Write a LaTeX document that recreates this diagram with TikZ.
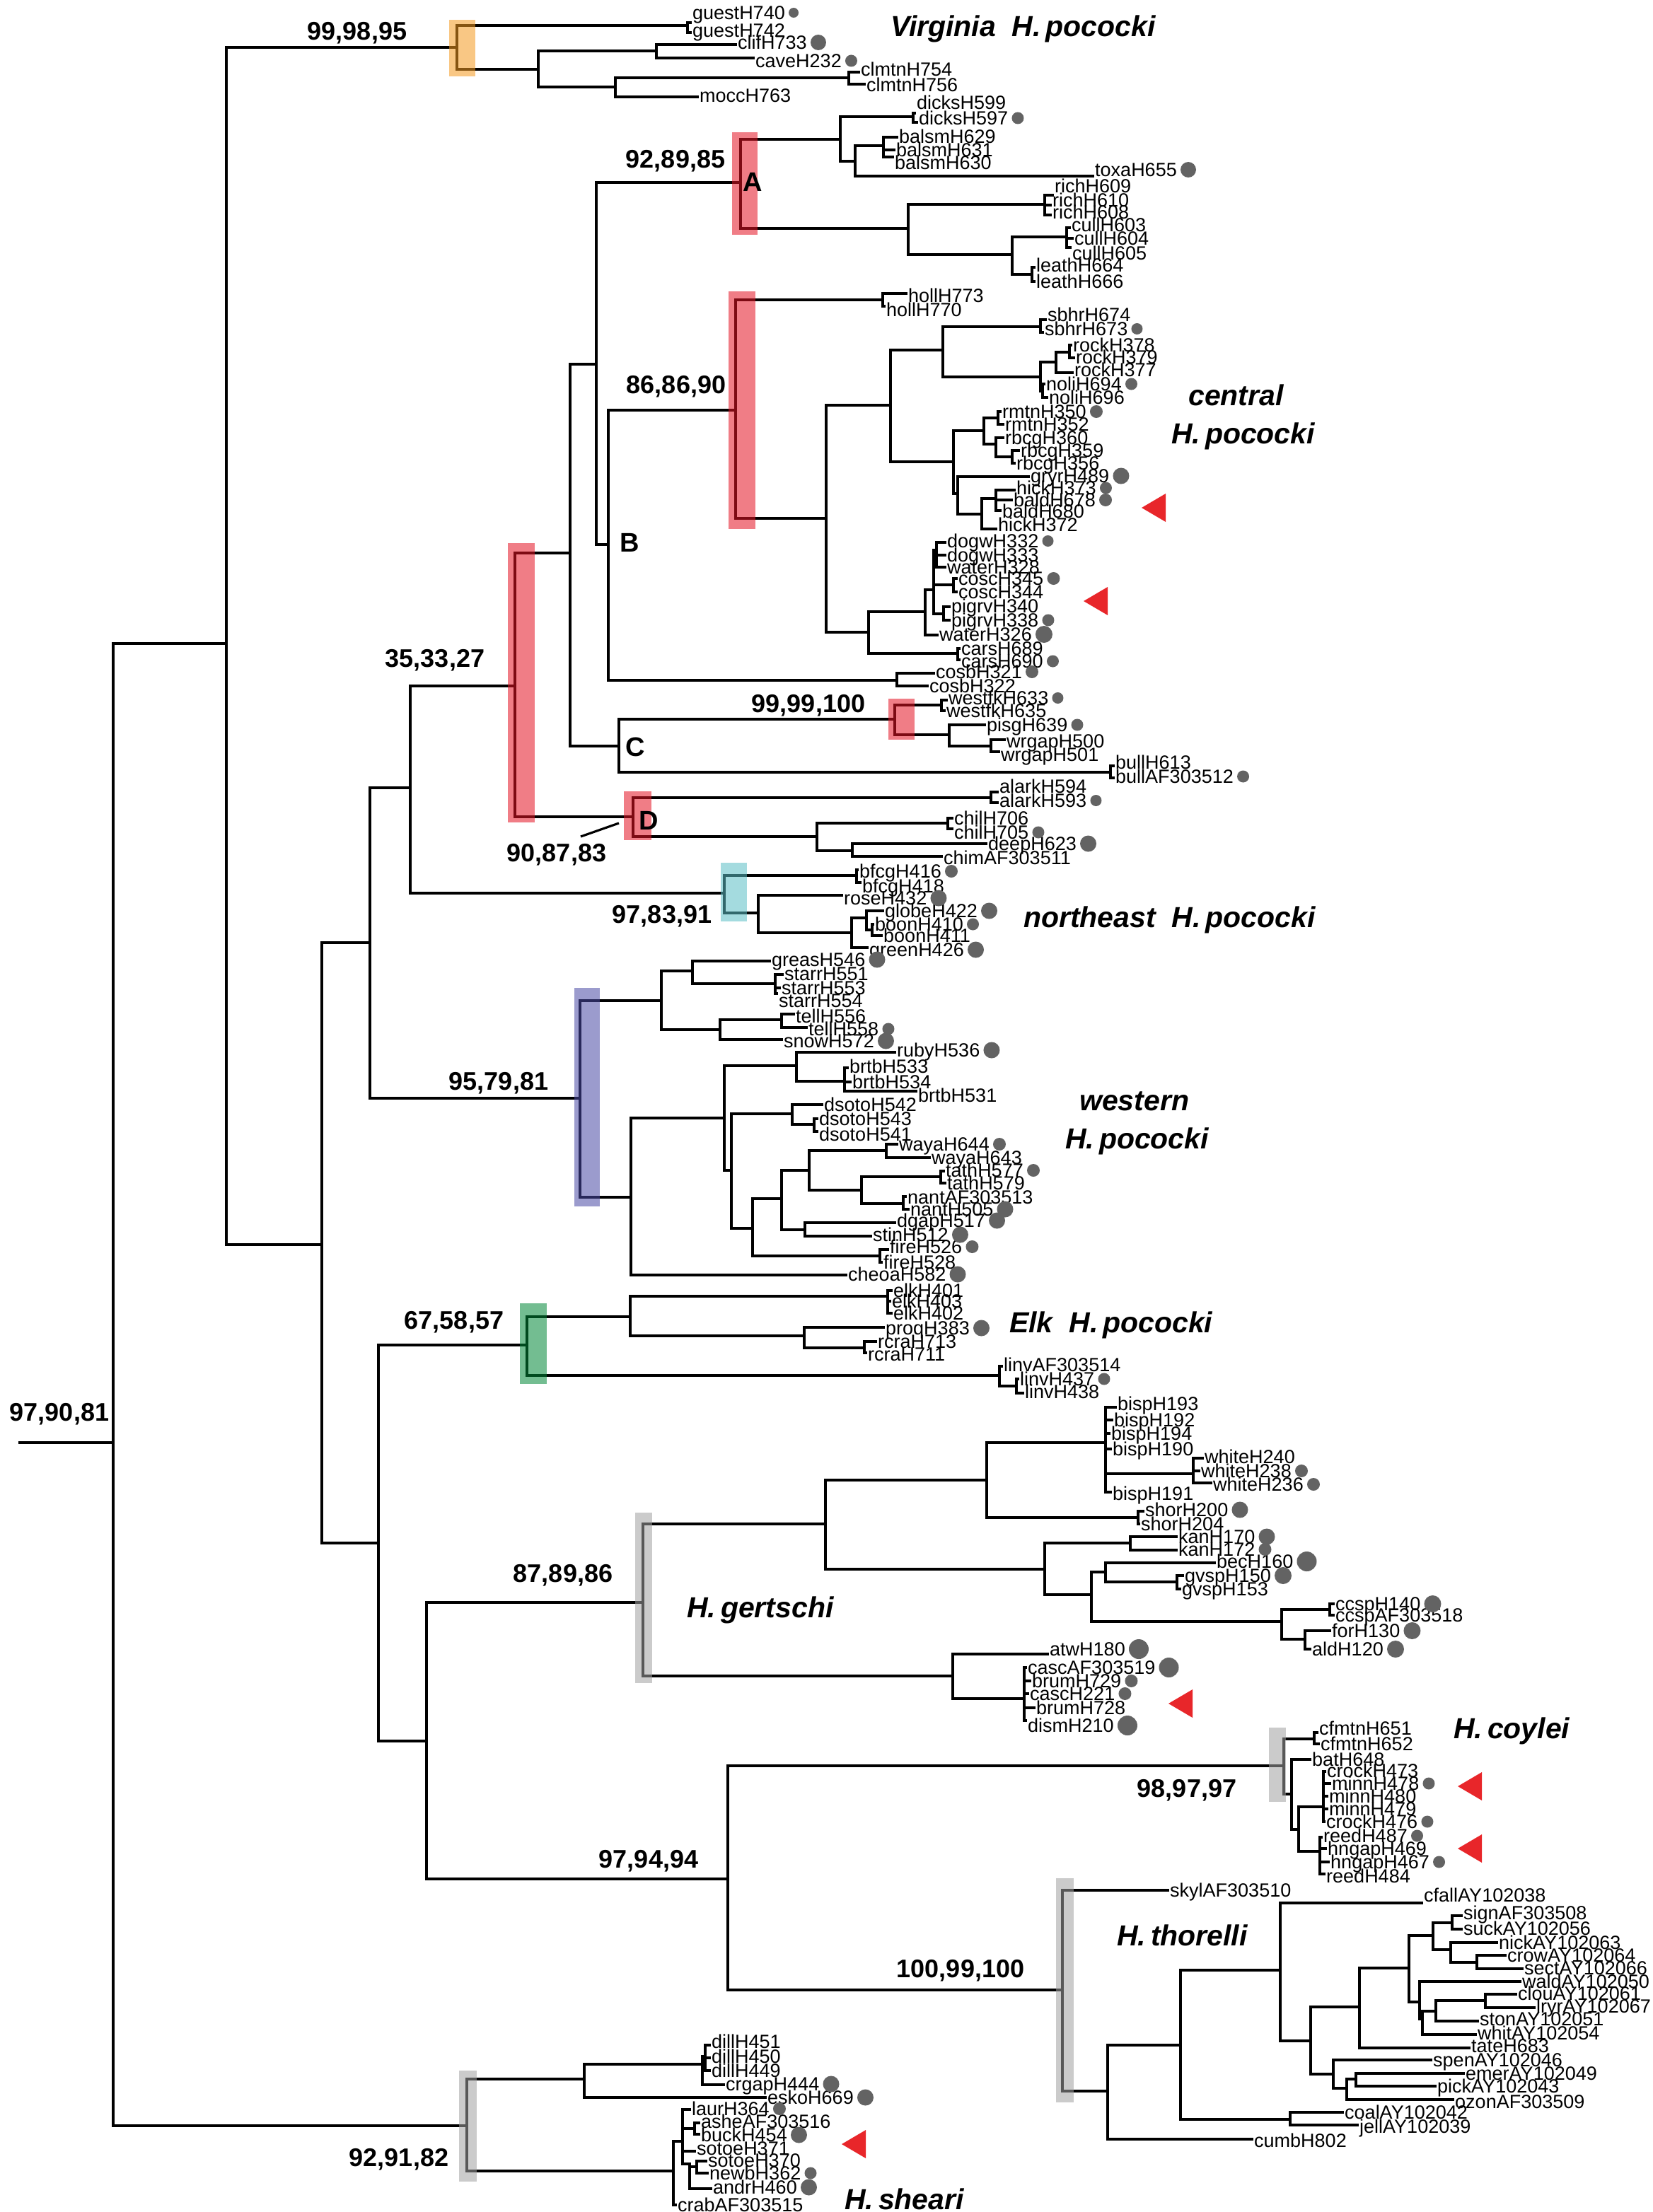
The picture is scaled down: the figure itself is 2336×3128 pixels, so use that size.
\documentclass[tikz,border=0pt]{standalone}
\usepackage{fontspec}
\setmainfont{Liberation Sans}
\definecolor{dotc}{RGB}{99,99,99}
\definecolor{trired}{RGB}{232,38,42}
\definecolor{bred}{RGB}{229,20,36}
\definecolor{borange}{RGB}{245,153,31}
\definecolor{bcyan}{RGB}{91,191,198}
\definecolor{bpurple}{RGB}{73,73,165}
\definecolor{bgreen}{RGB}{0,136,56}
\definecolor{bgray}{RGB}{162,162,162}
\newcommand\tbr[2]{\foreach \ch in {#2}{\draw[br] (#1) |- (\ch);}}
\newcommand\tlf[3]{\coordinate (#1) at (#2,#3);\node[lab] (#1-l) at (#2,#3) {#1};}
\newcommand\tlfy[4]{\coordinate (#1) at (#2,#3);\node[lab] (#1-l) at (#2,#4) {#1};}
\newcommand\tdot[2]{\fill[dotc] ([xshift=#2pt+5pt]#1-l.east) circle[radius=#2pt];}
\newcommand\ttri[2]{\fill[trired] (#1,#2) -- (#1+34,#2-20) -- (#1+34,#2+20) -- cycle;}
\begin{document}
\begin{tikzpicture}[x=1pt,y=-1pt,
 br/.style={line width=3.2pt,line cap=rect},
 cbox/.style={fill opacity=0.55},
 lab/.style={anchor=west,inner sep=0pt,xshift=3pt,text height=19.3pt,text depth=0pt,font=\fontsize{27}{27}\selectfont},
 num/.style={inner sep=0pt,text height=26pt,text depth=0pt,font=\fontsize{36}{36}\selectfont\bfseries},
 cladename/.style={anchor=west,inner sep=0pt,text height=29pt,text depth=0pt,font=\fontsize{41}{41}\selectfont\bfseries\itshape},
 cltr/.style={inner sep=0pt,text height=27pt,text depth=0pt,font=\fontsize{38}{38}\selectfont\bfseries}]
\useasboundingbox (0,0) rectangle (2336,3128);
\fill[white] (0,0) rectangle (2336,3128);
% ---------- backbone
\coordinate (rootL) at (28,2040);
\coordinate (root) at (160,2040);
\coordinate (n320) at (320,910);
\coordinate (n455) at (455,1760);
\coordinate (n523) at (523,1333);
\coordinate (n580) at (580,1114);
\coordinate (R) at (728,970);
\coordinate (P) at (806,782);
\coordinate (Q) at (843,515);
\coordinate (B) at (860,770);
\coordinate (N86) at (1040,580);
\coordinate (C) at (875,1055);
\coordinate (D) at (895,1155);
\coordinate (NE) at (1024,1263);
\coordinate (W) at (820,1553);
\coordinate (n535) at (535,2182);
\coordinate (E) at (745,1902);
\coordinate (n603) at (603,2462);
\coordinate (Gt) at (909,2266);
\coordinate (n1029) at (1029,2657);
\coordinate (Cy) at (1815,2497);
\coordinate (Th) at (1502,2814);
\coordinate (Sh) at (660,3006);
\coordinate (V) at (646,67);
\coordinate (A) at (1047,258);
% ---------- Virginia
\coordinate (G) at (972,36);
\coordinate (V2) at (761,98);
\coordinate (CC) at (928,72);
\coordinate (CM) at (870,123);
\coordinate (clm) at (1200,110);
\tlfy{guestH740}{976}{32}{18}
\tlfy{guestH742}{976}{46}{43}
\tlfy{clifH733}{1040}{63}{60}
\tlfy{caveH232}{1065}{82}{86}
\tlfy{clmtnH754}{1214}{102}{98}
\tlfy{clmtnH756}{1222}{119}{120}
\tlfy{moccH763}{986}{137}{135}
% ---------- A
\coordinate (A1) at (1188,197);
\coordinate (dk) at (1291,165);
\coordinate (A2) at (1209,228);
\coordinate (bs) at (1249,206);
\coordinate (A3) at (1284,323);
\coordinate (rc) at (1477,289);
\coordinate (A4) at (1431,360);
\coordinate (cl) at (1508,335);
\coordinate (le) at (1459,388);
\tlfy{dicksH599}{1293}{160}{145}
\tlfy{dicksH597}{1296}{173}{167}
\tlfy{balsmH629}{1268}{194}{193}
\tlfy{balsmH631}{1264}{212}{212}
\tlfy{balsmH630}{1262}{222}{230}
\tlfy{toxaH655}{1545}{249}{240}
\tlfy{richH609}{1488}{276}{263}
\tlfy{richH610}{1485}{290}{283}
\tlfy{richH608}{1485}{304}{300}
\tlfy{cullH603}{1512}{322}{318}
\tlf{cullH604}{1516}{337}
\tlfy{cullH605}{1513}{350}{358}
\tlfy{leathH664}{1462}{378}{375}
\tlf{leathH666}{1462}{398}
% ---------- B
\coordinate (ho) at (1248,424);
\coordinate (N1) at (1168,733);
\coordinate (N2) at (1259,573);
\coordinate (N3) at (1333,495);
\coordinate (sb) at (1471,462);
\coordinate (N4) at (1471,533);
\coordinate (rk) at (1493,512);
\coordinate (rk2) at (1512,498);
\coordinate (no) at (1474,553);
\coordinate (N5) at (1348,653);
\coordinate (N6) at (1391,609);
\coordinate (rm) at (1411,591);
\coordinate (rb) at (1408,628);
\coordinate (rb2) at (1431,646);
\coordinate (N7) at (1354,698);
\coordinate (N8) at (1388,727);
\coordinate (N9) at (1408,705);
\coordinate (N10) at (1228,894);
\coordinate (N11) at (1308,865);
\coordinate (N11b) at (1320,834);
\coordinate (N13) at (1324,778);
\coordinate (cs) at (1348,827);
\coordinate (pg) at (1334,868);
\coordinate (cr) at (1354,924);
\coordinate (cosb) at (1268,962);
\tlfy{hollH773}{1281}{415}{418}
\tlfy{hollH770}{1250}{433}{438}
\tlfy{sbhrH674}{1478}{452}{445}
\tlfy{sbhrH673}{1474}{470}{465}
\tlf{rockH378}{1514}{488}
\tlfy{rockH379}{1518}{506}{505}
\tlfy{rockH377}{1516}{527}{523}
\tlf{noliH694}{1476}{543}
\tlf{noliH696}{1480}{562}
\tlf{rmtnH350}{1414}{582}
\tlf{rmtnH352}{1418}{600}
\tlf{rbcgH360}{1418}{619}
\tlf{rbcgH359}{1440}{637}
\tlf{rbcgH356}{1434}{655}
\tlfy{gryrH489}{1454}{674}{673}
\tlfy{hickH373}{1434}{693}{690}
\tlf{baldH678}{1430}{707}
\tlfy{baldH680}{1414}{722}{723}
\tlfy{hickH372}{1408}{748}{742}
\tlfy{dogwH332}{1336}{767}{765}
\tlf{dogwH333}{1336}{785}
\tlf{waterH328}{1336}{802}
\tlf{coscH345}{1352}{818}
\tlf{coscH344}{1352}{837}
\tlfy{pigrvH340}{1342}{858}{857}
\tlf{pigrvH338}{1342}{877}
\tlfy{waterH326}{1325}{898}{897}
\tlf{carsH689}{1356}{917}
\tlfy{carsH690}{1356}{933}{935}
\tlfy{cosbH321}{1320}{952}{950}
\tlf{cosbH322}{1311}{970}
% ---------- C
\coordinate (c99) at (1265,1017);
\coordinate (wf) at (1331,997);
\coordinate (C2) at (1342,1039);
\coordinate (wg) at (1401,1055);
\coordinate (bu) at (1570,1092);
\tlfy{westfkH633}{1338}{990}{987}
\tlf{westfkH635}{1335}{1005}
\tlf{pisgH639}{1392}{1025}
\tlfy{wrgapH500}{1420}{1046}{1048}
\tlfy{wrgapH501}{1412}{1063}{1067}
\tlfy{bullH613}{1574}{1083}{1078}
\tlfy{bullAF303512}{1574}{1100}{1098}
% ---------- D
\coordinate (al) at (1401,1128);
\coordinate (D2) at (1155,1183);
\coordinate (ch) at (1340,1164);
\coordinate (D3) at (1205,1203);
\tlfy{alarkH594}{1410}{1120}{1112}
\tlfy{alarkH593}{1410}{1135}{1132}
\tlf{chilH706}{1346}{1157}
\tlfy{chilH705}{1346}{1172}{1177}
\tlf{deepH623}{1394}{1193}
\tlfy{chimAF303511}{1331}{1211}{1213}
% ---------- NE
\coordinate (bf) at (1211,1238);
\coordinate (NE2) at (1072,1291);
\coordinate (NE3) at (1204,1319);
\coordinate (NE4) at (1225,1298);
\coordinate (bn) at (1233,1315);
\tlfy{bfcgH416}{1212}{1230}{1232}
\tlfy{bfcgH418}{1216}{1248}{1253}
\tlfy{roseH432}{1190}{1266}{1270}
\tlf{globeH422}{1248}{1288}
\tlf{boonH410}{1234}{1307}
\tlf{boonH411}{1246}{1323}
\tlfy{greenH426}{1226}{1340}{1343}
% ---------- western
\coordinate (W1) at (935,1415);
\coordinate (W2) at (979,1373);
\coordinate (st) at (1096,1391);
\coordinate (W3) at (1018,1456);
\coordinate (tl) at (1105,1442);
\coordinate (W4) at (892,1693);
\coordinate (W5) at (1024,1581);
\coordinate (W6) at (1126,1507);
\coordinate (bt) at (1194,1529);
\coordinate (W7) at (1034,1655);
\coordinate (ds) at (1120,1575);
\coordinate (ds2) at (1151,1590);
\coordinate (W8) at (1064,1737);
\coordinate (W9) at (1105,1695);
\coordinate (W10) at (1144,1655);
\coordinate (wy) at (1253,1627);
\coordinate (W11) at (1218,1683);
\coordinate (th) at (1330,1664);
\coordinate (nt) at (1277,1702);
\coordinate (W12) at (1138,1739);
\coordinate (fi) at (1244,1776);
\tlfy{greasH546}{1088}{1359}{1357}
\tlfy{starrH551}{1106}{1378}{1377}
\tlf{starrH553}{1102}{1397}
\tlfy{starrH554}{1098}{1405}{1415}
\tlfy{tellH556}{1122}{1434}{1437}
\tlfy{tellH558}{1140}{1453}{1455}
\tlfy{snowH572}{1105}{1470}{1472}
\tlfy{rubyH536}{1265}{1488}{1485}
\tlfy{brtbH533}{1198}{1510}{1508}
\tlf{brtbH534}{1202}{1530}
\tlfy{brtbH531}{1295}{1543}{1549}
\tlf{dsotoH542}{1162}{1562}
\tlf{dsotoH543}{1155}{1582}
\tlfy{dsotoH541}{1155}{1600}{1604}
\tlf{wayaH644}{1268}{1618}
\tlf{wayaH643}{1314}{1637}
\tlfy{tathH577}{1334}{1656}{1655}
\tlf{tathH579}{1336}{1673}
\tlfy{nantAF303513}{1280}{1692}{1693}
\tlf{nantH505}{1284}{1710}
\tlfy{dgapH517}{1265}{1729}{1726}
\tlfy{stinH512}{1231}{1748}{1746}
\tlfy{fireH526}{1255}{1767}{1763}
\tlf{fireH528}{1246}{1785}
\tlfy{cheoaH582}{1196}{1803}{1802}
% ---------- Elk
\coordinate (E1) at (891,1862);
\coordinate (ek) at (1255,1833);
\coordinate (E2) at (1137,1889);
\coordinate (rcr) at (1222,1906);
\coordinate (lv) at (1413,1945);
\coordinate (lv2) at (1437,1960);
\tlf{elkH401}{1260}{1825}
\tlf{elkH403}{1258}{1840}
\tlf{elkH402}{1260}{1857}
\tlfy{proqH383}{1249}{1877}{1878}
\tlf{rcraH713}{1238}{1897}
\tlfy{rcraH711}{1224}{1913}{1915}
\tlfy{linvAF303514}{1416}{1932}{1930}
\tlf{linvH437}{1439}{1950}
\tlfy{linvH438}{1446}{1970}{1968}
% ---------- gertschi
\coordinate (Gt1) at (1167,2155);
\coordinate (Gt2) at (1395,2093);
\coordinate (Bs) at (1563,2040);
\coordinate (wh) at (1687,2084);
\coordinate (sh) at (1609,2146);
\coordinate (Gt3) at (1477,2219);
\coordinate (kn) at (1598,2182);
\coordinate (Gt4) at (1543,2255);
\coordinate (Gt5) at (1563,2223);
\coordinate (gv) at (1664,2237);
\coordinate (Xc) at (1812,2293);
\coordinate (cc) at (1880,2276);
\coordinate (Yc) at (1845,2318);
\coordinate (Gt6) at (1347,2370);
\coordinate (cs2) at (1448,2402);
\tlfy{bispH193}{1577}{1990}{1985}
\tlf{bispH192}{1572}{2008}
\tlf{bispH194}{1568}{2027}
\tlf{bispH190}{1570}{2049}
\tlfy{bispH191}{1570}{2110}{2112}
\tlfy{whiteH240}{1700}{2062}{2060}
\tlf{whiteH238}{1695}{2080}
\tlfy{whiteH236}{1712}{2097}{2099}
\tlfy{shorH200}{1616}{2137}{2135}
\tlf{shorH204}{1610}{2155}
\tlf{kanH170}{1663}{2173}
\tlfy{kanH172}{1663}{2192}{2191}
\tlfy{becH160}{1717}{2210}{2208}
\tlf{gvspH150}{1672}{2228}
\tlf{gvspH153}{1668}{2247}
\tlf{ccspH140}{1885}{2268}
\tlf{ccspAF303518}{1885}{2284}
\tlf{forH130}{1880}{2306}
\tlf{aldH120}{1852}{2332}
\tlfy{atwH180}{1481}{2339}{2332}
\tlf{cascAF303519}{1450}{2358}
\tlf{brumH729}{1456}{2377}
\tlf{cascH221}{1453}{2395}
\tlf{brumH728}{1462}{2415}
\tlfy{dismH210}{1450}{2433}{2440}
% ---------- coylei
\coordinate (cf) at (1858,2459);
\coordinate (Cy2) at (1826,2537);
\coordinate (Cy3) at (1836,2587);
\coordinate (mn) at (1871,2555);
\coordinate (rd) at (1866,2618);
\tlfy{cfmtnH651}{1862}{2450}{2444}
\tlf{cfmtnH652}{1864}{2466}
\tlf{batH648}{1852}{2488}
\tlfy{crockH473}{1873}{2505}{2504}
\tlf{minnH478}{1880}{2522}
\tlf{minnH480}{1876}{2540}
\tlf{minnH479}{1876}{2558}
\tlf{crockH476}{1872}{2576}
\tlfy{reedH487}{1868}{2598}{2596}
\tlf{hngapH469}{1874}{2614}
\tlf{hngapH467}{1878}{2633}
\tlfy{reedH484}{1872}{2650}{2653}
% ---------- thorelli
\coordinate (T1) at (1566,2957);
\coordinate (T2) at (1669,2892);
\coordinate (T3) at (1810,2786);
\coordinate (T4) at (1853,2886);
\coordinate (T5) at (1922,2838);
\coordinate (T6) at (1992,2783);
\coordinate (T7) at (2026,2737);
\coordinate (T8) at (2053,2719);
\coordinate (T9) at (2051,2757);
\coordinate (T10) at (2088,2775);
\coordinate (T11) at (2007,2831);
\coordinate (T12) at (2011,2855);
\coordinate (T13) at (2030,2844);
\coordinate (tcl) at (2100,2829);
\coordinate (T14) at (1885,2933);
\coordinate (T15) at (1904,2953);
\coordinate (T16) at (1917,2940);
\coordinate (T17) at (1824,2997);
\tlf{skylAF303510}{1651}{2673}
\tlfy{cfallAY102038}{2010}{2691}{2680}
\tlfy{signAF303508}{2066}{2709}{2705}
\tlfy{suckAY102056}{2066}{2728}{2727}
\tlf{nickAY102063}{2116}{2747}
\tlf{crowAY102064}{2128}{2765}
\tlfy{sectAY102066}{2152}{2784}{2783}
\tlf{waldAY102050}{2149}{2802}
\tlfy{clouAY102061}{2143}{2820}{2819}
\tlfy{lryrAY102067}{2169}{2839}{2837}
\tlfy{stonAY102051}{2089}{2858}{2855}
\tlfy{whitAY102054}{2086}{2877}{2875}
\tlfy{tateH683}{2077}{2896}{2893}
\tlf{spenAY102046}{2023}{2913}
\tlf{emerAY102049}{2069}{2932}
\tlf{pickAY102043}{2029}{2950}
\tlfy{ozonAF303509}{2054}{2969}{2972}
\tlf{coalAY102042}{1898}{2987}
\tlfy{jellAY102039}{1919}{3005}{3007}
\tlfy{cumbH802}{1770}{3025}{3027}
% ---------- sheari
\coordinate (S1) at (826,2940);
\coordinate (dl) at (993,2919);
\coordinate (dl2) at (997,2908);
\coordinate (S2) at (952,3070);
\coordinate (S3) at (965,3028);
\coordinate (ab) at (982,3010);
\coordinate (S4) at (975,3060);
\coordinate (S5) at (985,3064);
\tlfy{dillH451}{1003}{2892}{2887}
\tlfy{dillH450}{1003}{2910}{2908}
\tlf{dillH449}{1003}{2928}
\tlfy{crgapH444}{1023}{2948}{2947}
\tlf{eskoH669}{1082}{2966}
\tlfy{laurH364}{975}{2983}{2982}
\tlfy{asheAF303516}{988}{3002}{3000}
\tlfy{buckH454}{988}{3018}{3019}
\tlfy{sotoeH371}{982}{3042}{3038}
\tlfy{sotoeH370}{998}{3056}{3055}
\tlf{newbH362}{1000}{3073}
\tlfy{andrH460}{1005}{3095}{3093}
\tlf{crabAF303515}{955}{3118}
% ---------- branches
\draw[br] (rootL) -- (root);
\tbr{root}{n320,Sh}
\tbr{n320}{V,n455}
\tbr{n455}{n523,n535}
\tbr{n523}{n580,W}
\tbr{n580}{R,NE}
\tbr{R}{P,D}
\tbr{P}{Q,C}
\tbr{Q}{A,B}
\tbr{B}{N86,cosb}
\tbr{n535}{E,n603}
\tbr{n603}{Gt,n1029}
\tbr{n1029}{Cy,Th}
\tbr{V}{G,V2}
\tbr{G}{guestH740,guestH742}
\tbr{V2}{CC,CM}
\tbr{CC}{clifH733,caveH232}
\tbr{CM}{clm,moccH763}
\tbr{clm}{clmtnH754,clmtnH756}
\tbr{A}{A1,A3}
\tbr{A1}{dk,A2}
\tbr{dk}{dicksH599,dicksH597}
\tbr{A2}{bs,toxaH655}
\tbr{bs}{balsmH629,balsmH631,balsmH630}
\tbr{A3}{rc,A4}
\tbr{rc}{richH609,richH610,richH608}
\tbr{A4}{cl,le}
\tbr{cl}{cullH603,cullH604,cullH605}
\tbr{le}{leathH664,leathH666}
\tbr{N86}{ho,N1}
\tbr{ho}{hollH773,hollH770}
\tbr{N1}{N2,N10}
\tbr{N2}{N3,N5}
\tbr{N3}{sb,N4}
\tbr{sb}{sbhrH674,sbhrH673}
\tbr{N4}{rk,no}
\tbr{rk}{rk2,rockH377}
\tbr{rk2}{rockH378,rockH379}
\tbr{no}{noliH694,noliH696}
\tbr{N5}{N6,N7}
\tbr{N6}{rm,rb}
\tbr{rm}{rmtnH350,rmtnH352}
\tbr{rb}{rbcgH360,rb2}
\tbr{rb2}{rbcgH359,rbcgH356}
\tbr{N7}{gryrH489,N8}
\tbr{N8}{N9,hickH372}
\tbr{N9}{hickH373,baldH678,baldH680}
\tbr{N10}{N11,cr}
\tbr{N11}{N11b,waterH326}
\tbr{N11b}{N13,cs,pg}
\tbr{N13}{dogwH332,dogwH333,waterH328}
\tbr{cs}{coscH345,coscH344}
\tbr{pg}{pigrvH340,pigrvH338}
\tbr{cr}{carsH689,carsH690}
\tbr{cosb}{cosbH321,cosbH322}
\tbr{C}{c99,bu}
\tbr{c99}{wf,C2}
\tbr{wf}{westfkH633,westfkH635}
\tbr{C2}{pisgH639,wg}
\tbr{wg}{wrgapH500,wrgapH501}
\tbr{bu}{bullH613,bullAF303512}
\tbr{D}{al,D2}
\tbr{al}{alarkH594,alarkH593}
\tbr{D2}{ch,D3}
\tbr{ch}{chilH706,chilH705}
\tbr{D3}{deepH623,chimAF303511}
\tbr{NE}{bf,NE2}
\tbr{bf}{bfcgH416,bfcgH418}
\tbr{NE2}{roseH432,NE3}
\tbr{NE3}{NE4,greenH426}
\tbr{NE4}{globeH422,bn}
\tbr{bn}{boonH410,boonH411}
\tbr{W}{W1,W4}
\tbr{W1}{W2,W3}
\tbr{W2}{greasH546,st}
\tbr{st}{starrH551,starrH553,starrH554}
\tbr{W3}{tl,snowH572}
\tbr{tl}{tellH556,tellH558}
\tbr{W4}{W5,cheoaH582}
\tbr{W5}{W6,W7}
\tbr{W6}{rubyH536,bt}
\tbr{bt}{brtbH533,brtbH534,brtbH531}
\tbr{W7}{ds,W8}
\tbr{ds}{dsotoH542,ds2}
\tbr{ds2}{dsotoH543,dsotoH541}
\tbr{W8}{W9,fi}
\tbr{W9}{W10,W12}
\tbr{W10}{wy,W11}
\tbr{wy}{wayaH644,wayaH643}
\tbr{W11}{th,nt}
\tbr{th}{tathH577,tathH579}
\tbr{nt}{nantAF303513,nantH505}
\tbr{W12}{dgapH517,stinH512}
\tbr{fi}{fireH526,fireH528}
\tbr{E}{E1,lv}
\tbr{E1}{ek,E2}
\tbr{ek}{elkH401,elkH403,elkH402}
\tbr{E2}{proqH383,rcr}
\tbr{rcr}{rcraH713,rcraH711}
\tbr{lv}{linvAF303514,lv2}
\tbr{lv2}{linvH437,linvH438}
\tbr{Gt}{Gt1,Gt6}
\tbr{Gt1}{Gt2,Gt3}
\tbr{Gt2}{Bs,sh}
\tbr{Bs}{bispH193,bispH192,bispH194,bispH190,wh,bispH191}
\tbr{wh}{whiteH240,whiteH238,whiteH236}
\tbr{sh}{shorH200,shorH204}
\tbr{Gt3}{kn,Gt4}
\tbr{kn}{kanH170,kanH172}
\tbr{Gt4}{Gt5,Xc}
\tbr{Gt5}{becH160,gv}
\tbr{gv}{gvspH150,gvspH153}
\tbr{Xc}{cc,Yc}
\tbr{cc}{ccspH140,ccspAF303518}
\tbr{Yc}{forH130,aldH120}
\tbr{Gt6}{atwH180,cs2}
\tbr{cs2}{cascAF303519,brumH729,cascH221,brumH728,dismH210}
\tbr{Cy}{cf,Cy2}
\tbr{cf}{cfmtnH651,cfmtnH652}
\tbr{Cy2}{batH648,Cy3}
\tbr{Cy3}{mn,rd}
\tbr{mn}{crockH473,minnH478,minnH480,minnH479,crockH476}
\tbr{rd}{reedH487,hngapH469,hngapH467,reedH484}
\tbr{Th}{skylAF303510,T1}
\tbr{T1}{T2,cumbH802}
\tbr{T2}{T3,T17}
\tbr{T3}{cfallAY102038,T4}
\tbr{T4}{T5,T14}
\tbr{T5}{T6,tateH683}
\tbr{T6}{T7,T11}
\tbr{T7}{T8,T9}
\tbr{T8}{signAF303508,suckAY102056}
\tbr{T9}{nickAY102063,T10}
\tbr{T10}{crowAY102064,sectAY102066}
\tbr{T11}{waldAY102050,T12}
\tbr{T12}{T13,whitAY102054}
\tbr{T13}{tcl,stonAY102051}
\tbr{tcl}{clouAY102061,lryrAY102067}
\tbr{T14}{spenAY102046,T15}
\tbr{T15}{T16,ozonAF303509}
\tbr{T16}{emerAY102049,pickAY102043}
\tbr{T17}{coalAY102042,jellAY102039}
\tbr{Sh}{S1,S2}
\tbr{S1}{dl,eskoH669}
\tbr{dl}{dl2,crgapH444}
\tbr{dl2}{dillH451,dillH450,dillH449}
\tbr{S2}{S3,crabAF303515}
\tbr{S3}{laurH364,ab,sotoeH371,S4}
\tbr{ab}{asheAF303516,buckH454}
\tbr{S4}{S5,andrH460}
\tbr{S5}{sotoeH370,newbH362}
% ---------- clade boxes (translucent, over the branches)
\fill[borange,cbox] (635,28) rectangle (672,108);
\fill[bred,cbox] (1035,187) rectangle (1071,332);
\fill[bred,cbox] (1030,412) rectangle (1068,748);
\fill[bred,cbox] (718,768) rectangle (756,1163);
\fill[bred,cbox] (1256,988) rectangle (1293,1046);
\fill[bred,cbox] (882,1119) rectangle (921,1188);
\fill[bcyan,cbox] (1019,1220) rectangle (1056,1303);
\fill[bpurple,cbox] (812,1397) rectangle (848,1706);
\fill[bgreen,cbox] (735,1843) rectangle (773,1957);
\fill[bgray,cbox] (898,2139) rectangle (922,2380);
\fill[bgray,cbox] (1794,2443) rectangle (1818,2548);
\fill[bgray,cbox] (1493,2656) rectangle (1518,2973);
\fill[bgray,cbox] (649,2928) rectangle (674,3085);
% ---------- dots
\tdot{guestH740}{7}\tdot{clifH733}{11}\tdot{caveH232}{8.5}
\tdot{dicksH597}{8.5}\tdot{toxaH655}{11}
\tdot{sbhrH673}{8}\tdot{noliH694}{8.5}\tdot{rmtnH350}{9}\tdot{gryrH489}{11.5}
\tdot{hickH373}{8.5}\tdot{baldH678}{9}\tdot{dogwH332}{8}\tdot{coscH345}{9}
\tdot{pigrvH338}{8.5}\tdot{waterH326}{12}\tdot{carsH690}{8.5}\tdot{cosbH321}{9}
\tdot{westfkH633}{8}\tdot{pisgH639}{8.5}\tdot{bullAF303512}{8.5}
\tdot{alarkH593}{8}\tdot{chilH705}{8.5}\tdot{deepH623}{11.5}
\tdot{bfcgH416}{9}\tdot{roseH432}{11.5}\tdot{globeH422}{11.5}\tdot{boonH410}{8.5}\tdot{greenH426}{11.5}
\tdot{greasH546}{11.5}\tdot{tellH558}{8.5}\tdot{snowH572}{11.5}\tdot{rubyH536}{11.5}
\tdot{wayaH644}{9}\tdot{tathH577}{9}\tdot{nantH505}{11.5}\tdot{dgapH517}{11.5}
\tdot{stinH512}{11.5}\tdot{fireH526}{9}\tdot{cheoaH582}{11.5}
\tdot{proqH383}{11.5}\tdot{linvH437}{8.5}
\tdot{whiteH238}{9}\tdot{whiteH236}{9}\tdot{shorH200}{11.5}\tdot{kanH170}{11.5}\tdot{kanH172}{9}
\tdot{becH160}{14}\tdot{gvspH150}{12}\tdot{ccspH140}{12}\tdot{forH130}{12}\tdot{aldH120}{12}
\tdot{atwH180}{14}\tdot{cascAF303519}{14}\tdot{brumH729}{9}\tdot{cascH221}{9}\tdot{dismH210}{14}
\tdot{minnH478}{8.5}\tdot{crockH476}{8.5}\tdot{reedH487}{8.5}\tdot{hngapH467}{8.5}
\tdot{crgapH444}{11.5}\tdot{eskoH669}{11.5}\tdot{laurH364}{9}\tdot{buckH454}{11.5}
\tdot{newbH362}{8.5}\tdot{andrH460}{11.5}
% ---------- triangles
\ttri{1614}{718}
\ttri{1532}{850}
\ttri{1652}{2409}
\ttri{2061}{2526}
\ttri{2061}{2614}
\ttri{1190}{3032}
% ---------- support values
\node[num] (s1) at (505,44) {99,98,95};
\node[num] (s2) at (955,225) {92,89,85};
\node[num] (s3) at (956,543) {86,86,90};
\node[num] (s4) at (615,930) {35,33,27};
\node[num] (s5) at (1143,994) {99,99,100};
\node[num] (s6) at (787,1205) {90,87,83};
\node[num] (s7) at (936,1292) {97,83,91};
\node[num] (s8) at (705,1528) {95,79,81};
\node[num] (s9) at (642,1866) {67,58,57};
\node[num] (s10) at (84,1996) {97,90,81};
\node[num] (s11) at (796,2224) {87,89,86};
\node[num] (s12) at (1678,2528) {98,97,97};
\node[num] (s13) at (917,2628) {97,94,94};
\node[num] (s14) at (1358,2783) {100,99,100};
\node[num] (s15) at (564,3050) {92,91,82};
\coordinate (ldA) at (875,1164);
\coordinate (ldB) at (821,1183);
\draw[line width=3.2pt] (ldA) -- (ldB);
\node[cltr] (lA) at (1064,257) {A};
\node[cltr] (lB) at (890,767) {B};
\node[cltr] (lC) at (898,1056) {C};
\node[cltr] (lD) at (917,1160) {D};
% ---------- clade names
\node[cladename] (nV) at (1259,37) {Virginia\ \ H.\,pococki};
\node[cladename] (nC1) at (1680,559) {central};
\node[cladename] (nC2) at (1656,613) {H.\,pococki};
\node[cladename] (nNE) at (1447,1297) {northeast\ \ H.\,pococki};
\node[cladename] (nW1) at (1526,1556) {western};
\node[cladename] (nW2) at (1506,1610) {H.\,pococki};
\node[cladename] (nE) at (1427,1870) {Elk\ \ H.\,pococki};
\node[cladename] (nG) at (971,2273) {H.\,gertschi};
\node[cladename] (nCy) at (2055,2444) {H.\,coylei};
\node[cladename] (nT) at (1579,2737) {H.\,thorelli};
\node[cladename] (nS) at (1194,3110) {H.\,sheari};
\end{tikzpicture}
\end{document}
